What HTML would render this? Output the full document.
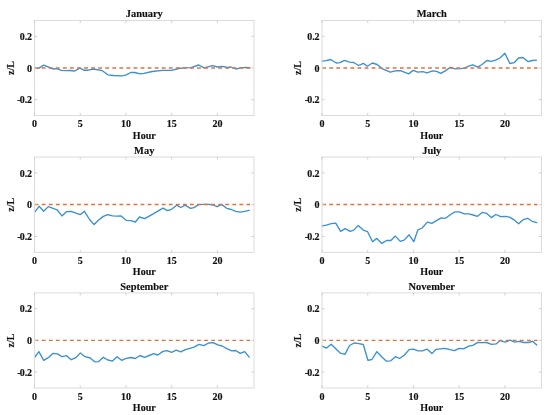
<!DOCTYPE html><html><head><meta charset="utf-8"><style>html,body{margin:0;padding:0;background:#fff;}svg{display:block;}text{font-family:"Liberation Serif","Times New Roman",serif;font-weight:bold;fill:#111;stroke:#111;stroke-width:0.15px;}</style></head><body>
<svg width="550" height="415" viewBox="0 0 550 415">
<rect width="550" height="415" fill="#fff"/>
<g><polyline points="34.5,68.2 38.5,68.4 43.7,65.1 53.3,69.0 56.4,68.7 61.5,70.4 66.0,70.6 70.0,70.5 74.7,71.0 79.8,68.2 83.9,70.2 88.0,70.2 93.6,69.0 102.3,70.7 107.9,74.8 113.5,75.5 121.6,75.8 125.7,75.1 130.8,72.5 134.8,72.5 139.9,73.8 144.0,73.3 152.2,71.5 162.4,70.4 171.5,70.4 178.7,68.5 184.8,67.9 190.9,67.7 198.7,65.0 204.2,67.9 212.4,65.6 217.8,67.0 222.2,66.3 227.6,67.5 230.9,67.0 235.8,69.0 240.7,67.9 246.2,67.4 249.9,67.9" fill="none" stroke="#3a90d1" stroke-width="1.35" stroke-linejoin="round" stroke-linecap="round"/><line x1="34.70" y1="67.95" x2="250.00" y2="67.95" stroke="#e2703c" stroke-width="1.4" stroke-dasharray="3.8 3.26"/><rect x="34.5" y="20.5" width="219.50" height="95.00" fill="none" stroke="#dcdcdc" stroke-width="1"/><line x1="34.50" y1="115.5" x2="34.50" y2="112.90" stroke="#cbcbcb" stroke-width="0.9"/><line x1="34.50" y1="20.5" x2="34.50" y2="23.10" stroke="#cbcbcb" stroke-width="0.9"/><text x="34.50" y="127.00" font-size="10" text-anchor="middle">0</text><line x1="80.23" y1="115.5" x2="80.23" y2="112.90" stroke="#cbcbcb" stroke-width="0.9"/><line x1="80.23" y1="20.5" x2="80.23" y2="23.10" stroke="#cbcbcb" stroke-width="0.9"/><text x="80.23" y="127.00" font-size="10" text-anchor="middle">5</text><line x1="125.96" y1="115.5" x2="125.96" y2="112.90" stroke="#cbcbcb" stroke-width="0.9"/><line x1="125.96" y1="20.5" x2="125.96" y2="23.10" stroke="#cbcbcb" stroke-width="0.9"/><text x="125.96" y="127.00" font-size="10" text-anchor="middle">10</text><line x1="171.69" y1="115.5" x2="171.69" y2="112.90" stroke="#cbcbcb" stroke-width="0.9"/><line x1="171.69" y1="20.5" x2="171.69" y2="23.10" stroke="#cbcbcb" stroke-width="0.9"/><text x="171.69" y="127.00" font-size="10" text-anchor="middle">15</text><line x1="217.42" y1="115.5" x2="217.42" y2="112.90" stroke="#cbcbcb" stroke-width="0.9"/><line x1="217.42" y1="20.5" x2="217.42" y2="23.10" stroke="#cbcbcb" stroke-width="0.9"/><text x="217.42" y="127.00" font-size="10" text-anchor="middle">20</text><line x1="34.5" y1="36.33" x2="37.10" y2="36.33" stroke="#cbcbcb" stroke-width="0.9"/><line x1="254.0" y1="36.33" x2="251.40" y2="36.33" stroke="#cbcbcb" stroke-width="0.9"/><text x="31.90" y="39.93" font-size="10" text-anchor="end">0.<tspan dx="-0.4">2</tspan></text><line x1="34.5" y1="68.00" x2="37.10" y2="68.00" stroke="#cbcbcb" stroke-width="0.9"/><line x1="254.0" y1="68.00" x2="251.40" y2="68.00" stroke="#cbcbcb" stroke-width="0.9"/><text x="31.90" y="71.60" font-size="10" text-anchor="end">0</text><line x1="34.5" y1="99.67" x2="37.10" y2="99.67" stroke="#cbcbcb" stroke-width="0.9"/><line x1="254.0" y1="99.67" x2="251.40" y2="99.67" stroke="#cbcbcb" stroke-width="0.9"/><text x="31.90" y="103.27" font-size="10" text-anchor="end">-<tspan dx="-0.7">0</tspan>.<tspan dx="-0.4">2</tspan></text><text x="144.25" y="17.10" font-size="10.45" text-anchor="middle">January</text><text x="144.25" y="138.70" font-size="10" text-anchor="middle">Hour</text><text transform="translate(14.40,68.00) rotate(-90)" x="0" y="0" font-size="10" text-anchor="middle">z/L</text></g>
<g><polyline points="322.0,61.2 326.1,60.7 330.7,59.5 336.3,63.0 339.9,62.7 344.4,60.4 349.5,62.2 353.6,62.5 358.7,65.5 363.3,63.4 367.4,66.3 372.4,63.0 377.1,64.5 382.1,68.6 390.3,72.2 396.4,70.7 400.5,70.7 408.6,73.9 413.2,70.4 417.8,72.2 422.9,71.7 427.0,72.9 432.6,70.9 436.7,71.4 440.7,73.4 445.3,70.9 450.4,67.3 455.0,68.8 460.6,68.6 464.7,68.1 468.7,66.1 472.8,64.8 477.9,67.1 482.0,64.5 486.9,60.5 491.3,61.3 495.6,60.2 500.0,58.0 504.9,53.3 509.8,63.5 514.2,62.7 518.5,58.0 522.9,57.5 527.8,61.6 532.2,60.5 536.5,60.2" fill="none" stroke="#3a90d1" stroke-width="1.35" stroke-linejoin="round" stroke-linecap="round"/><line x1="322.20" y1="67.95" x2="537.50" y2="67.95" stroke="#e2703c" stroke-width="1.4" stroke-dasharray="3.8 3.26"/><rect x="322.0" y="20.5" width="219.50" height="95.00" fill="none" stroke="#dcdcdc" stroke-width="1"/><line x1="322.00" y1="115.5" x2="322.00" y2="112.90" stroke="#cbcbcb" stroke-width="0.9"/><line x1="322.00" y1="20.5" x2="322.00" y2="23.10" stroke="#cbcbcb" stroke-width="0.9"/><text x="322.00" y="127.00" font-size="10" text-anchor="middle">0</text><line x1="367.73" y1="115.5" x2="367.73" y2="112.90" stroke="#cbcbcb" stroke-width="0.9"/><line x1="367.73" y1="20.5" x2="367.73" y2="23.10" stroke="#cbcbcb" stroke-width="0.9"/><text x="367.73" y="127.00" font-size="10" text-anchor="middle">5</text><line x1="413.46" y1="115.5" x2="413.46" y2="112.90" stroke="#cbcbcb" stroke-width="0.9"/><line x1="413.46" y1="20.5" x2="413.46" y2="23.10" stroke="#cbcbcb" stroke-width="0.9"/><text x="413.46" y="127.00" font-size="10" text-anchor="middle">10</text><line x1="459.19" y1="115.5" x2="459.19" y2="112.90" stroke="#cbcbcb" stroke-width="0.9"/><line x1="459.19" y1="20.5" x2="459.19" y2="23.10" stroke="#cbcbcb" stroke-width="0.9"/><text x="459.19" y="127.00" font-size="10" text-anchor="middle">15</text><line x1="504.92" y1="115.5" x2="504.92" y2="112.90" stroke="#cbcbcb" stroke-width="0.9"/><line x1="504.92" y1="20.5" x2="504.92" y2="23.10" stroke="#cbcbcb" stroke-width="0.9"/><text x="504.92" y="127.00" font-size="10" text-anchor="middle">20</text><line x1="322.0" y1="36.33" x2="324.60" y2="36.33" stroke="#cbcbcb" stroke-width="0.9"/><line x1="541.5" y1="36.33" x2="538.90" y2="36.33" stroke="#cbcbcb" stroke-width="0.9"/><text x="319.40" y="39.93" font-size="10" text-anchor="end">0.<tspan dx="-0.4">2</tspan></text><line x1="322.0" y1="68.00" x2="324.60" y2="68.00" stroke="#cbcbcb" stroke-width="0.9"/><line x1="541.5" y1="68.00" x2="538.90" y2="68.00" stroke="#cbcbcb" stroke-width="0.9"/><text x="319.40" y="71.60" font-size="10" text-anchor="end">0</text><line x1="322.0" y1="99.67" x2="324.60" y2="99.67" stroke="#cbcbcb" stroke-width="0.9"/><line x1="541.5" y1="99.67" x2="538.90" y2="99.67" stroke="#cbcbcb" stroke-width="0.9"/><text x="319.40" y="103.27" font-size="10" text-anchor="end">-<tspan dx="-0.7">0</tspan>.<tspan dx="-0.4">2</tspan></text><text x="431.75" y="17.10" font-size="10.45" text-anchor="middle">March</text><text x="431.75" y="138.70" font-size="10" text-anchor="middle">Hour</text><text transform="translate(301.20,68.00) rotate(-90)" x="0" y="0" font-size="10" text-anchor="middle">z/L</text></g>
<g><polyline points="34.5,212.4 39.1,206.3 43.7,211.3 48.3,206.6 52.4,208.1 57.0,209.8 62.0,215.9 66.6,211.6 71.2,211.3 75.8,213.2 80.4,214.6 84.4,211.3 89.6,219.5 94.1,224.6 98.7,220.0 103.3,216.4 107.9,214.6 112.5,215.9 116.5,216.2 121.1,215.9 126.2,220.3 130.8,220.7 135.4,222.0 139.5,217.0 144.6,218.7 149.2,216.2 153.7,213.6 158.3,210.8 162.9,208.1 167.5,210.6 171.6,209.3 176.7,205.2 180.7,207.5 185.3,205.2 190.4,208.3 194.0,207.6 198.5,204.6 203.6,204.4 208.7,204.4 213.2,205.0 217.1,206.7 221.6,204.4 226.7,208.3 231.2,209.5 235.7,211.4 240.2,212.1 244.7,211.4 249.2,210.3" fill="none" stroke="#3a90d1" stroke-width="1.35" stroke-linejoin="round" stroke-linecap="round"/><line x1="34.70" y1="204.45" x2="250.00" y2="204.45" stroke="#e2703c" stroke-width="1.4" stroke-dasharray="3.8 3.26"/><rect x="34.5" y="157.0" width="219.50" height="95.40" fill="none" stroke="#dcdcdc" stroke-width="1"/><line x1="34.50" y1="252.4" x2="34.50" y2="249.80" stroke="#cbcbcb" stroke-width="0.9"/><line x1="34.50" y1="157.0" x2="34.50" y2="159.60" stroke="#cbcbcb" stroke-width="0.9"/><text x="34.50" y="263.90" font-size="10" text-anchor="middle">0</text><line x1="80.23" y1="252.4" x2="80.23" y2="249.80" stroke="#cbcbcb" stroke-width="0.9"/><line x1="80.23" y1="157.0" x2="80.23" y2="159.60" stroke="#cbcbcb" stroke-width="0.9"/><text x="80.23" y="263.90" font-size="10" text-anchor="middle">5</text><line x1="125.96" y1="252.4" x2="125.96" y2="249.80" stroke="#cbcbcb" stroke-width="0.9"/><line x1="125.96" y1="157.0" x2="125.96" y2="159.60" stroke="#cbcbcb" stroke-width="0.9"/><text x="125.96" y="263.90" font-size="10" text-anchor="middle">10</text><line x1="171.69" y1="252.4" x2="171.69" y2="249.80" stroke="#cbcbcb" stroke-width="0.9"/><line x1="171.69" y1="157.0" x2="171.69" y2="159.60" stroke="#cbcbcb" stroke-width="0.9"/><text x="171.69" y="263.90" font-size="10" text-anchor="middle">15</text><line x1="217.42" y1="252.4" x2="217.42" y2="249.80" stroke="#cbcbcb" stroke-width="0.9"/><line x1="217.42" y1="157.0" x2="217.42" y2="159.60" stroke="#cbcbcb" stroke-width="0.9"/><text x="217.42" y="263.90" font-size="10" text-anchor="middle">20</text><line x1="34.5" y1="172.90" x2="37.10" y2="172.90" stroke="#cbcbcb" stroke-width="0.9"/><line x1="254.0" y1="172.90" x2="251.40" y2="172.90" stroke="#cbcbcb" stroke-width="0.9"/><text x="31.90" y="176.50" font-size="10" text-anchor="end">0.<tspan dx="-0.4">2</tspan></text><line x1="34.5" y1="204.70" x2="37.10" y2="204.70" stroke="#cbcbcb" stroke-width="0.9"/><line x1="254.0" y1="204.70" x2="251.40" y2="204.70" stroke="#cbcbcb" stroke-width="0.9"/><text x="31.90" y="208.30" font-size="10" text-anchor="end">0</text><line x1="34.5" y1="236.50" x2="37.10" y2="236.50" stroke="#cbcbcb" stroke-width="0.9"/><line x1="254.0" y1="236.50" x2="251.40" y2="236.50" stroke="#cbcbcb" stroke-width="0.9"/><text x="31.90" y="240.10" font-size="10" text-anchor="end">-<tspan dx="-0.7">0</tspan>.<tspan dx="-0.4">2</tspan></text><text x="144.25" y="153.60" font-size="10.45" text-anchor="middle">May</text><text x="144.25" y="274.90" font-size="10" text-anchor="middle">Hour</text><text transform="translate(14.40,204.70) rotate(-90)" x="0" y="0" font-size="10" text-anchor="middle">z/L</text></g>
<g><polyline points="322.0,225.8 326.3,225.1 331.3,223.6 335.7,223.2 340.7,231.3 345.1,228.6 350.1,231.3 353.8,230.1 358.2,225.4 363.2,230.1 367.6,231.7 372.6,241.7 376.8,238.4 381.8,243.4 386.5,240.5 390.9,240.5 395.3,236.1 400.3,241.4 404.1,240.1 409.1,234.8 413.8,241.7 417.9,229.8 422.2,228.0 427.3,222.1 431.8,223.3 436.8,220.4 441.2,217.9 445.5,218.3 449.9,215.0 454.9,211.9 459.3,211.9 464.3,213.8 468.7,213.9 473.1,215.0 477.5,216.3 482.5,212.3 486.4,213.3 491.4,217.6 495.8,214.5 500.8,216.7 505.2,216.4 509.6,217.1 514.0,219.8 518.6,223.8 523.4,219.6 527.7,218.3 532.1,221.3 536.8,222.6" fill="none" stroke="#3a90d1" stroke-width="1.35" stroke-linejoin="round" stroke-linecap="round"/><line x1="322.20" y1="204.45" x2="537.50" y2="204.45" stroke="#e2703c" stroke-width="1.4" stroke-dasharray="3.8 3.26"/><rect x="322.0" y="157.0" width="219.50" height="95.40" fill="none" stroke="#dcdcdc" stroke-width="1"/><line x1="322.00" y1="252.4" x2="322.00" y2="249.80" stroke="#cbcbcb" stroke-width="0.9"/><line x1="322.00" y1="157.0" x2="322.00" y2="159.60" stroke="#cbcbcb" stroke-width="0.9"/><text x="322.00" y="263.90" font-size="10" text-anchor="middle">0</text><line x1="367.73" y1="252.4" x2="367.73" y2="249.80" stroke="#cbcbcb" stroke-width="0.9"/><line x1="367.73" y1="157.0" x2="367.73" y2="159.60" stroke="#cbcbcb" stroke-width="0.9"/><text x="367.73" y="263.90" font-size="10" text-anchor="middle">5</text><line x1="413.46" y1="252.4" x2="413.46" y2="249.80" stroke="#cbcbcb" stroke-width="0.9"/><line x1="413.46" y1="157.0" x2="413.46" y2="159.60" stroke="#cbcbcb" stroke-width="0.9"/><text x="413.46" y="263.90" font-size="10" text-anchor="middle">10</text><line x1="459.19" y1="252.4" x2="459.19" y2="249.80" stroke="#cbcbcb" stroke-width="0.9"/><line x1="459.19" y1="157.0" x2="459.19" y2="159.60" stroke="#cbcbcb" stroke-width="0.9"/><text x="459.19" y="263.90" font-size="10" text-anchor="middle">15</text><line x1="504.92" y1="252.4" x2="504.92" y2="249.80" stroke="#cbcbcb" stroke-width="0.9"/><line x1="504.92" y1="157.0" x2="504.92" y2="159.60" stroke="#cbcbcb" stroke-width="0.9"/><text x="504.92" y="263.90" font-size="10" text-anchor="middle">20</text><line x1="322.0" y1="172.90" x2="324.60" y2="172.90" stroke="#cbcbcb" stroke-width="0.9"/><line x1="541.5" y1="172.90" x2="538.90" y2="172.90" stroke="#cbcbcb" stroke-width="0.9"/><text x="319.40" y="176.50" font-size="10" text-anchor="end">0.<tspan dx="-0.4">2</tspan></text><line x1="322.0" y1="204.70" x2="324.60" y2="204.70" stroke="#cbcbcb" stroke-width="0.9"/><line x1="541.5" y1="204.70" x2="538.90" y2="204.70" stroke="#cbcbcb" stroke-width="0.9"/><text x="319.40" y="208.30" font-size="10" text-anchor="end">0</text><line x1="322.0" y1="236.50" x2="324.60" y2="236.50" stroke="#cbcbcb" stroke-width="0.9"/><line x1="541.5" y1="236.50" x2="538.90" y2="236.50" stroke="#cbcbcb" stroke-width="0.9"/><text x="319.40" y="240.10" font-size="10" text-anchor="end">-<tspan dx="-0.7">0</tspan>.<tspan dx="-0.4">2</tspan></text><text x="431.75" y="153.60" font-size="10.45" text-anchor="middle">July</text><text x="431.75" y="274.90" font-size="10" text-anchor="middle">Hour</text><text transform="translate(301.20,204.70) rotate(-90)" x="0" y="0" font-size="10" text-anchor="middle">z/L</text></g>
<g><polyline points="34.5,357.5 38.9,351.7 43.7,360.3 48.3,357.7 52.9,353.4 57.5,353.9 62.0,356.7 66.6,355.7 71.2,359.7 75.8,357.7 80.4,352.9 85.0,356.7 90.1,358.0 94.7,361.8 98.7,361.6 103.3,357.3 107.9,360.0 112.5,361.1 117.1,356.7 121.6,360.3 126.2,358.3 130.8,357.5 135.4,358.5 140.0,355.5 144.6,357.3 149.2,355.5 153.7,353.7 157.8,355.0 162.9,351.4 167.0,350.6 171.6,352.4 176.2,350.2 180.7,351.9 185.3,349.6 189.9,348.3 194.0,347.1 199.1,344.4 203.6,345.6 208.7,343.0 213.2,342.6 217.7,344.9 222.2,346.0 226.7,348.6 231.8,350.9 235.7,350.5 240.2,353.4 244.7,351.6 249.2,357.1" fill="none" stroke="#3a90d1" stroke-width="1.35" stroke-linejoin="round" stroke-linecap="round"/><line x1="34.70" y1="340.40" x2="250.00" y2="340.40" stroke="#e2703c" stroke-width="1.4" stroke-dasharray="3.8 3.26"/><rect x="34.5" y="292.9" width="219.50" height="95.10" fill="none" stroke="#dcdcdc" stroke-width="1"/><line x1="34.50" y1="388.0" x2="34.50" y2="385.40" stroke="#cbcbcb" stroke-width="0.9"/><line x1="34.50" y1="292.9" x2="34.50" y2="295.50" stroke="#cbcbcb" stroke-width="0.9"/><text x="34.50" y="399.50" font-size="10" text-anchor="middle">0</text><line x1="80.23" y1="388.0" x2="80.23" y2="385.40" stroke="#cbcbcb" stroke-width="0.9"/><line x1="80.23" y1="292.9" x2="80.23" y2="295.50" stroke="#cbcbcb" stroke-width="0.9"/><text x="80.23" y="399.50" font-size="10" text-anchor="middle">5</text><line x1="125.96" y1="388.0" x2="125.96" y2="385.40" stroke="#cbcbcb" stroke-width="0.9"/><line x1="125.96" y1="292.9" x2="125.96" y2="295.50" stroke="#cbcbcb" stroke-width="0.9"/><text x="125.96" y="399.50" font-size="10" text-anchor="middle">10</text><line x1="171.69" y1="388.0" x2="171.69" y2="385.40" stroke="#cbcbcb" stroke-width="0.9"/><line x1="171.69" y1="292.9" x2="171.69" y2="295.50" stroke="#cbcbcb" stroke-width="0.9"/><text x="171.69" y="399.50" font-size="10" text-anchor="middle">15</text><line x1="217.42" y1="388.0" x2="217.42" y2="385.40" stroke="#cbcbcb" stroke-width="0.9"/><line x1="217.42" y1="292.9" x2="217.42" y2="295.50" stroke="#cbcbcb" stroke-width="0.9"/><text x="217.42" y="399.50" font-size="10" text-anchor="middle">20</text><line x1="34.5" y1="308.75" x2="37.10" y2="308.75" stroke="#cbcbcb" stroke-width="0.9"/><line x1="254.0" y1="308.75" x2="251.40" y2="308.75" stroke="#cbcbcb" stroke-width="0.9"/><text x="31.90" y="312.35" font-size="10" text-anchor="end">0.<tspan dx="-0.4">2</tspan></text><line x1="34.5" y1="340.45" x2="37.10" y2="340.45" stroke="#cbcbcb" stroke-width="0.9"/><line x1="254.0" y1="340.45" x2="251.40" y2="340.45" stroke="#cbcbcb" stroke-width="0.9"/><text x="31.90" y="344.05" font-size="10" text-anchor="end">0</text><line x1="34.5" y1="372.15" x2="37.10" y2="372.15" stroke="#cbcbcb" stroke-width="0.9"/><line x1="254.0" y1="372.15" x2="251.40" y2="372.15" stroke="#cbcbcb" stroke-width="0.9"/><text x="31.90" y="375.75" font-size="10" text-anchor="end">-<tspan dx="-0.7">0</tspan>.<tspan dx="-0.4">2</tspan></text><text x="144.25" y="289.50" font-size="10.45" text-anchor="middle">September</text><text x="144.25" y="410.80" font-size="10" text-anchor="middle">Hour</text><text transform="translate(14.40,340.45) rotate(-90)" x="0" y="0" font-size="10" text-anchor="middle">z/L</text></g>
<g><polyline points="322.0,346.1 326.6,348.1 331.2,344.3 335.8,348.8 340.4,353.2 345.0,354.4 349.5,345.5 354.1,343.0 358.7,343.7 363.3,344.5 367.9,360.3 371.9,359.5 376.9,351.6 381.6,356.7 386.2,361.1 390.8,360.8 395.4,356.7 399.5,358.5 404.5,355.0 409.1,349.6 413.2,349.1 418.3,350.9 422.4,350.9 427.0,349.1 431.9,353.6 436.1,349.3 440.2,348.8 444.8,348.3 449.9,349.6 454.5,350.6 459.1,348.3 463.6,348.8 468.7,346.1 472.8,345.3 477.9,342.4 482.0,342.7 486.5,342.5 491.6,344.4 496.1,343.9 500.0,340.6 505.1,342.1 510.2,340.2 514.7,342.1 519.2,341.3 523.7,342.5 528.2,342.5 532.7,341.3 536.7,345.1" fill="none" stroke="#3a90d1" stroke-width="1.35" stroke-linejoin="round" stroke-linecap="round"/><line x1="322.20" y1="340.40" x2="537.50" y2="340.40" stroke="#e2703c" stroke-width="1.4" stroke-dasharray="3.8 3.26"/><rect x="322.0" y="292.9" width="219.50" height="95.10" fill="none" stroke="#dcdcdc" stroke-width="1"/><line x1="322.00" y1="388.0" x2="322.00" y2="385.40" stroke="#cbcbcb" stroke-width="0.9"/><line x1="322.00" y1="292.9" x2="322.00" y2="295.50" stroke="#cbcbcb" stroke-width="0.9"/><text x="322.00" y="399.50" font-size="10" text-anchor="middle">0</text><line x1="367.73" y1="388.0" x2="367.73" y2="385.40" stroke="#cbcbcb" stroke-width="0.9"/><line x1="367.73" y1="292.9" x2="367.73" y2="295.50" stroke="#cbcbcb" stroke-width="0.9"/><text x="367.73" y="399.50" font-size="10" text-anchor="middle">5</text><line x1="413.46" y1="388.0" x2="413.46" y2="385.40" stroke="#cbcbcb" stroke-width="0.9"/><line x1="413.46" y1="292.9" x2="413.46" y2="295.50" stroke="#cbcbcb" stroke-width="0.9"/><text x="413.46" y="399.50" font-size="10" text-anchor="middle">10</text><line x1="459.19" y1="388.0" x2="459.19" y2="385.40" stroke="#cbcbcb" stroke-width="0.9"/><line x1="459.19" y1="292.9" x2="459.19" y2="295.50" stroke="#cbcbcb" stroke-width="0.9"/><text x="459.19" y="399.50" font-size="10" text-anchor="middle">15</text><line x1="504.92" y1="388.0" x2="504.92" y2="385.40" stroke="#cbcbcb" stroke-width="0.9"/><line x1="504.92" y1="292.9" x2="504.92" y2="295.50" stroke="#cbcbcb" stroke-width="0.9"/><text x="504.92" y="399.50" font-size="10" text-anchor="middle">20</text><line x1="322.0" y1="308.75" x2="324.60" y2="308.75" stroke="#cbcbcb" stroke-width="0.9"/><line x1="541.5" y1="308.75" x2="538.90" y2="308.75" stroke="#cbcbcb" stroke-width="0.9"/><text x="319.40" y="312.35" font-size="10" text-anchor="end">0.<tspan dx="-0.4">2</tspan></text><line x1="322.0" y1="340.45" x2="324.60" y2="340.45" stroke="#cbcbcb" stroke-width="0.9"/><line x1="541.5" y1="340.45" x2="538.90" y2="340.45" stroke="#cbcbcb" stroke-width="0.9"/><text x="319.40" y="344.05" font-size="10" text-anchor="end">0</text><line x1="322.0" y1="372.15" x2="324.60" y2="372.15" stroke="#cbcbcb" stroke-width="0.9"/><line x1="541.5" y1="372.15" x2="538.90" y2="372.15" stroke="#cbcbcb" stroke-width="0.9"/><text x="319.40" y="375.75" font-size="10" text-anchor="end">-<tspan dx="-0.7">0</tspan>.<tspan dx="-0.4">2</tspan></text><text x="431.75" y="289.50" font-size="10.45" text-anchor="middle">November</text><text x="431.75" y="410.80" font-size="10" text-anchor="middle">Hour</text><text transform="translate(301.20,340.45) rotate(-90)" x="0" y="0" font-size="10" text-anchor="middle">z/L</text></g>
</svg></body></html>
